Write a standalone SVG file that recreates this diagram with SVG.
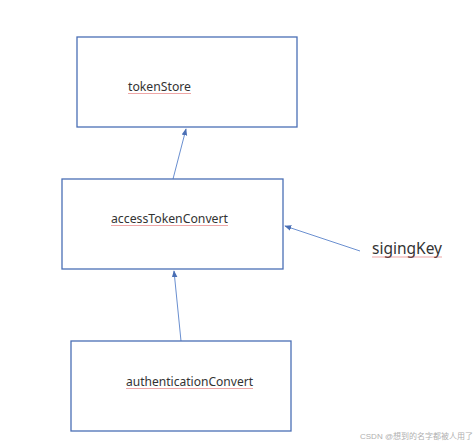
<svg xmlns="http://www.w3.org/2000/svg" width="474" height="445" viewBox="0 0 474 445">
<defs>
<style>
.box{fill:#fff;stroke:#4a6fb5;stroke-width:1.3}
.lbl{font-family:"Noto Sans","Liberation Sans",sans-serif;font-size:13px;fill:#333}
.sq{stroke:#e06060;stroke-width:0.8;fill:none;opacity:0.7}
.con{stroke:#6a8fd0;stroke-width:1;fill:none;marker-end:url(#ah)}
.wm{font-family:"Liberation Sans","Noto Sans CJK SC",sans-serif;font-size:8px;fill:#b0b0b0}
</style>
<marker id="ah" viewBox="0 0 10 10" refX="9" refY="5" markerWidth="7" markerHeight="7" orient="auto" markerUnits="userSpaceOnUse">
<path d="M0,1 L10,5 L0,9 Z" fill="#4a6fb5"/>
</marker>
</defs>
<rect width="474" height="445" fill="#fff"/>
<g id="connectors">
<line class="con" x1="173" y1="179" x2="186" y2="129"/>
<line class="con" x1="181" y1="341" x2="174" y2="271"/>
<line class="con" x1="360" y1="251" x2="285" y2="226"/>
</g>
<g id="tokenStore">
<rect class="box" x="77" y="37" width="220" height="90"/>
<text class="lbl" x="128" y="91" textLength="63" lengthAdjust="spacingAndGlyphs">tokenStore</text>
<line class="sq" x1="128" y1="93.5" x2="191" y2="93.5"/>
</g>
<g id="accessTokenConvert">
<rect class="box" x="62" y="179" width="221" height="90"/>
<text class="lbl" x="111" y="223" textLength="117" lengthAdjust="spacingAndGlyphs">accessTokenConvert</text>
<line class="sq" x1="111" y1="225.5" x2="228" y2="225.5"/>
</g>
<g id="authenticationConvert">
<rect class="box" x="71" y="341" width="220" height="90"/>
<text class="lbl" x="126" y="386" textLength="127" lengthAdjust="spacingAndGlyphs">authenticationConvert</text>
<line class="sq" x1="126" y1="388.5" x2="253" y2="388.5"/>
</g>
<g id="sigingKey">
<text class="lbl" x="372" y="254" style="font-size:17px" textLength="70" lengthAdjust="spacingAndGlyphs">sigingKey</text>
<line class="sq" x1="372" y1="257" x2="442" y2="257"/>
</g>
<text class="wm" x="360" y="439">CSDN @想到的名字都被人用了</text>
</svg>
